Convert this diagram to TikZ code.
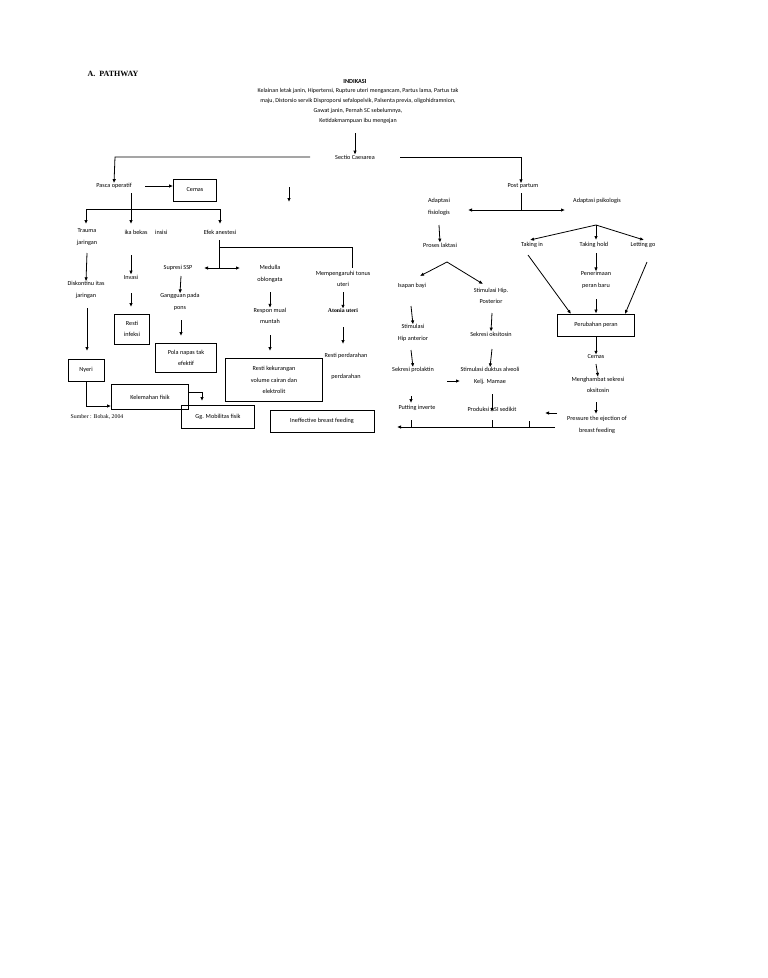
\documentclass[tikz,border=0pt]{standalone}
\usepackage{fontspec}
\setmainfont{Carlito}
\newfontfamily\serifb{Liberation Serif}
\usetikzlibrary{arrows.meta}
\begin{document}
\begin{tikzpicture}[x=1pt,y=-1pt,
 t/.style={font=\fontsize{6.2}{11.5}\selectfont,align=center,inner sep=0pt},
 bx/.style={draw,line width=0.9pt,minimum width=#1,inner sep=2pt},
 ar/.style={-{Latex[length=4pt,width=3.5pt]},line width=0.8pt},
 ln/.style={line width=0.8pt}]
\useasboundingbox[fill=white] (0,0) rectangle (768,978);
\node[font=\serifb\bfseries\fontsize{8}{9}\selectfont] (ttl) at (113,74) {A.\ \ PATHWAY};
\node[t,font=\bfseries\fontsize{6.2}{7}\selectfont] (ind) at (355,81) {INDIKASI};
\node[t,font=\fontsize{6}{10}\selectfont] (indt) at (358,106) {Kelainan letak janin, Hipertensi, Rupture uteri mengancam, Partus lama, Partus tak\\ maju, Distorsio servik Disproporsi sefalopelvik, Palsenta previa, oligohidramnion,\\ Gawat janin, Pernah SC sebelumnya,\\ Ketidakmampuan ibu mengejan};
\node[t] (sc) at (355,157) {Sectio Caesarea};
\coordinate (scl) at (310,157);
\coordinate (scr) at (400,157);
\draw[ar] (355,133) -- (sc.north);
\node[t] (pasca) at (114,186) {Pasca operatif};
\node[t] (post) at (523,186) {Post partum};
\draw[ar] (scl) -- (115,157) -- (pasca.north);
\draw[ar] (scr) -- (521,157) -- (post.north -| 521,0);
\node[draw,line width=0.9pt,minimum width=43pt,minimum height=22pt,t] (cemas1) at (195,190) {Cemas};
\draw[ar] (145,186) -- (cemas1.west |- 145,186);
\draw[ar] (289,187) -- (289,202);
\node[t] (trauma) at (87,237) {Trauma\\jaringan};
\node[t] (ika) at (146,232) {ika bekas \quad insisi};
\node[t] (efek) at (220,232) {Efek anestesi};
\draw[ln] (86,209) -- (220,209);
\draw[ar] (86,209) -- (86,224);
\draw[ar] (220,209) -- (220,224);
\draw[ar] (131,193) -- (131,224);
\draw[ln] (219,240) -- (219,247) -- (352,247) -- (352,268);
\node[t] (sup) at (178,268) {Supresi SSP};
\node[t] (med) at (270,274) {Medulla\\oblongata};
\draw[ln] (219,247) -- (219,268);
\draw[ar] (219,268) -- (204,268);
\draw[ar] (219,268) -- (240,268);
\node[t] (mem) at (343,279) {Mempengaruhi tonus\\uteri};
\node[t] (disk) at (86,290) {Diskontinu itas\\jaringan};
\draw[ar] (87,253) -- (disk.north);
\node[t] (inv) at (131,277) {Invasi};
\draw[ar] (131,255) -- (inv.north);
\node[bx=35pt,minimum height=30pt,t] (rinf) at (132,329) {Resti\\infeksi};
\draw[ar] (131,293) -- (131,307);
\node[t] (gang) at (180,302) {Gangguan pada\\pons};
\draw[ar] (181,276) -- (gang.north);
\node[bx=61pt,minimum height=29pt,t] (pola) at (186,358) {Pola napas tak\\efektif};
\draw[ar] (181,320) -- (181,336);
\node[t] (resp) at (270,316) {Respon mual\\muntah};
\draw[ar] (270,292) -- (resp.north);
\node[bx=97pt,minimum height=43pt,t] (rkek) at (274,380) {Resti kekurangan\\volume cairan dan\\elektrolit};
\draw[ar] (270,335) -- (270,351);
\node[t,font=\serifb\bfseries\fontsize{5.8}{6}\selectfont] (aton) at (343,311) {Atonia uteri};
\draw[ar] (343,292) -- (aton.north);
\node[t,font=\fontsize{6.2}{21}\selectfont] (rper) at (346,366) {Resti perdarahan\\perdarahan};
\draw[ar] (343,327) -- (343,344);
\node[bx=36pt,minimum height=22pt,t] (nyeri) at (86,370) {Nyeri};
\draw[ar] (87,308) -- (87,351);
\node[bx=77pt,minimum height=25pt,t] (kel) at (150,397) {Kelemahan fisik};
\draw[ar] (86,381) -- (86,406) -- (kel.west |- 86,406);
\draw[ar] (188,392) -- (202,392) -- (202,401);
\node[bx=73pt,minimum height=23pt,t] (gg) at (218,417) {Gg. Mobilitas fisik};
\node[bx=104pt,minimum height=22pt,t] (ineff) at (322,421) {Ineffective breast feeding};
\node[font=\serifb\fontsize{5.8}{6}\selectfont] (sum) at (97,417) {Sumber : Bobak, 2004};
\node[t] (afis) at (439,207) {Adaptasi\\fisiologis};
\node[t] (apsi) at (597,201) {Adaptasi psikologis};
\draw[ln] (521,193) -- (521,210);
\draw[ar] (521,210) -- (468,210);
\draw[ar] (521,210) -- (565,210);
\node[t] (pl) at (440,245) {Proses laktasi};
\draw[ar] (439,225) -- (pl.north);
\node[t] (tin) at (532,245) {Taking in};
\node[t] (thold) at (594,245) {Taking hold};
\node[t] (lgo) at (643,245) {Letting go};
\draw[ar] (596,225) -- (530,240);
\draw[ar] (596,225) -- (596,240);
\draw[ar] (596,225) -- (644,240);
\node[t] (pen) at (596,280) {Penerimaan\\peran baru};
\draw[ar] (596,253) -- (pen.north);
\node[bx=77pt,minimum height=22pt,t] (per) at (596,325) {Perubahan peran};
\draw[ar] (528,255) -- (571,314);
\draw[ar] (596,299) -- (per.north);
\draw[ar] (647,262) -- (625,314);
\node[t] (cem2) at (596,357) {Cemas};
\draw[ar] (per.south) -- (cem2.north);
\node[t] (meng) at (598,385) {Menghambat sekresi\\oksitosin};
\draw[ar] (596,364) -- (meng.north);
\node[t] (press) at (597,425) {Pressure the ejection of\\breast feeding};
\draw[ar] (596,402) -- (596,414);
\node[t] (isap) at (412,286) {Isapan bayi};
\node[t] (shp) at (491,296) {Stimulasi Hip.\\Posterior};
\draw[ar] (447,262) -- (420,276);
\draw[ar] (447,262) -- (483,284);
\node[t] (sha) at (413,333) {Stimulasi\\Hip anterior};
\draw[ar] (411,306) -- (sha.north);
\node[t] (sok) at (491,334) {Sekresi oksitosin};
\draw[ar] (492,313) -- (sok.north);
\node[t] (spro) at (413,370) {Sekresi prolaktin};
\draw[ar] (411,350) -- (spro.north);
\node[t] (sdu) at (490,376) {Stimulasi duktus alveoli\\Kelj. Mamae};
\draw[ar] (492,349) -- (sdu.north);
\draw[ar] (447,381) -- (460,381);
\node[t] (put) at (417,408) {Putting inverte};
\draw[ar] (411,396) -- (411,403);
\node[t] (prod) at (492,409) {Produksi ASI sedikit};
\draw[ar] (492,394) -- (492,412);
\draw[ar] (557,413) -- (545,413);
\draw[ar] (555,427) -- (397,427);
\draw[ln] (411,420) -- (411,427) (492,420) -- (492,427) (529,421) -- (529,427);
\end{tikzpicture}
\end{document}
